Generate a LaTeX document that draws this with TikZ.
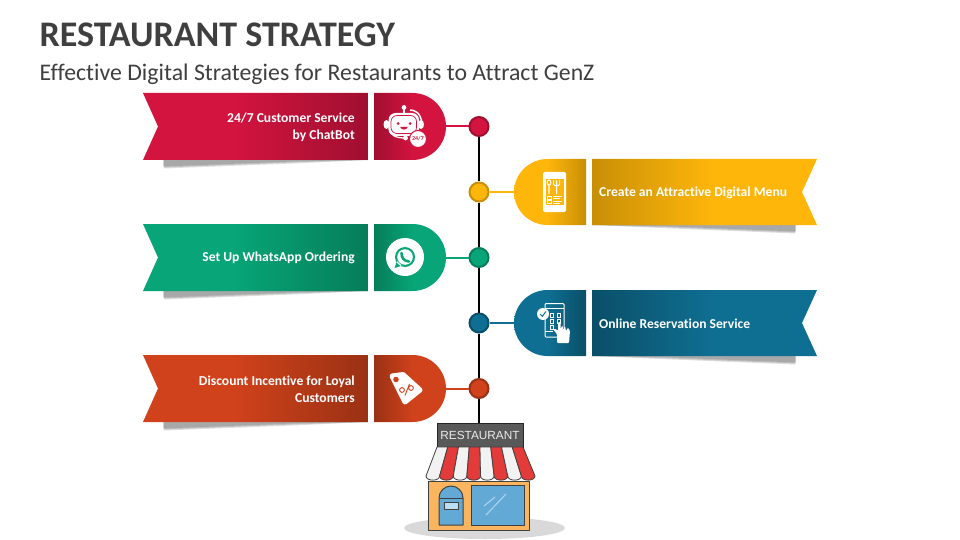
\documentclass[tikz,border=0pt]{standalone}
\usepackage{fontspec}
\setmainfont[Ligatures=NoCommon]{Carlito}
\newfontfamily\signfont{Liberation Sans}
\usetikzlibrary{calc}
\definecolor{redA}{HTML}{D3143F}\definecolor{redB}{HTML}{A00F30}
\definecolor{yelA}{HTML}{FFB60B}\definecolor{yelB}{HTML}{C88F05}
\definecolor{grnA}{HTML}{07A577}\definecolor{grnB}{HTML}{067D5A}
\definecolor{teaA}{HTML}{0F6F92}\definecolor{teaB}{HTML}{0A4F68}
\definecolor{ornA}{HTML}{D0421B}\definecolor{ornB}{HTML}{9A3114}
\definecolor{ink}{HTML}{3F3F3F}
\definecolor{shopline}{HTML}{404040}
\definecolor{awnRed}{HTML}{E23B39}
\definecolor{awnWhite}{HTML}{F2F2F2}
\definecolor{wallCol}{HTML}{FBB55F}
\definecolor{glassCol}{HTML}{62A9D6}
\definecolor{paleCol}{HTML}{BBDDF2}
\definecolor{glintCol}{HTML}{A9D0EA}
\newcommand{\mkshades}[3]{%
 \pgfdeclarehorizontalshading{#1BL}{100bp}{color(0bp)=(#2);color(45bp)=(#2);color(75bp)=(#3);color(100bp)=(#3)}%
 \pgfdeclarehorizontalshading{#1HL}{100bp}{color(0bp)=(#3);color(25bp)=(#3);color(52bp)=(#2);color(100bp)=(#2)}%
 \pgfdeclarehorizontalshading{#1HR}{100bp}{color(0bp)=(#2);color(48bp)=(#2);color(75bp)=(#3);color(100bp)=(#3)}%
 \pgfdeclarehorizontalshading{#1BR}{100bp}{color(0bp)=(#3);color(25bp)=(#3);color(52bp)=(#2);color(100bp)=(#2)}%
}
\mkshades{red}{redA}{redB}\mkshades{yel}{yelA}{yelB}\mkshades{grn}{grnA}{grnB}\mkshades{tea}{teaA}{teaB}\mkshades{orn}{ornA}{ornB}
\tikzset{
 dot/.style={circle,inner sep=0pt,minimum size=19pt,line width=2pt},
 rowlabel/.style={text=white,font=\bfseries\fontsize{13.6}{17}\selectfont,inner sep=0pt},
 stem/.style={line width=2pt},
 shop/.style={draw=shopline,line width=1pt,line join=round},
 softshadow/.style={fill=black,opacity=0.13,draw=none},
 awn0/.style={shop,line width=0.8pt,fill=awnWhite},
 awn1/.style={shop,line width=0.8pt,fill=awnRed},
}
\newcommand{\leftrow}[6]{%
 \pgfmathsetmacro{\rowmid}{(#5+#6)/2}%
 \foreach \d in {0,1,2}{\fill[softshadow] ({164-\d*0.5},#6) -- ({164-\d*0.5},{#6+8.5-\d}) -- (300,{#6+3.2-\d}) -- (368,#6) -- cycle;}
 \shade[shading=#2BL] (143,#5) -- (368,#5) -- (368,#6) -- (143,#6) -- (158,\rowmid) -- cycle;
 \shade[shading=#2HL] (374,#5) -- (412.5,#5) .. controls (431,#5) and (446,{#5+15}) .. (446,\rowmid) .. controls (446,{#6-15}) and (431,#6) .. (412.5,#6) -- (374,#6) -- cycle;
 \coordinate (h#1) at (446,\rowmid);
 \node[dot,fill=#3,draw=#4] (c#1) at (479,\rowmid) {};
 \draw[line width=2pt,#3] (h#1) -- (c#1);
}
\newcommand{\rightrow}[6]{%
 \pgfmathsetmacro{\rowmid}{(#5+#6)/2}%
 \foreach \d in {0,1,2}{\fill[softshadow] ({795+\d*0.5},#6) -- ({795+\d*0.5},{#6+8.5-\d}) -- (665,{#6+3.2-\d}) -- (592,#6) -- cycle;}
 \shade[shading=#2BR] (592,#5) -- (817,#5) -- (802,\rowmid) -- (817,#6) -- (592,#6) -- cycle;
 \shade[shading=#2HR] (586,#5) -- (547.5,#5) .. controls (529,#5) and (514,{#5+15}) .. (514,\rowmid) .. controls (514,{#6-15}) and (529,#6) .. (547.5,#6) -- (586,#6) -- cycle;
 \coordinate (h#1) at (514,\rowmid);
 \node[dot,fill=#3,draw=#4] (c#1) at (479,\rowmid) {};
 \draw[line width=2pt,#3] (h#1) -- (c#1);
}
\begin{document}
\begin{tikzpicture}[x=1pt,y=-1pt]
\useasboundingbox (0,0) rectangle (960,540);
\fill[white] (0,0) rectangle (960,540);
\node[anchor=base west,inner sep=0pt,text=ink,font=\bfseries\fontsize{36}{40}\selectfont] (title) at (39.5,46.3) {RESTAURANT STRATEGY};
\node[anchor=base west,inner sep=0pt,text=ink,font=\fontsize{23.8}{26}\selectfont] (subtitle) at (39.5,80.5) {Effective Digital Strategies for Restaurants to Attract GenZ};
% rows
\leftrow{1}{red}{redA}{redB}{93}{160}
\rightrow{2}{yel}{yelA}{yelB}{159}{225}
\leftrow{3}{grn}{grnA}{grnB}{224}{291}
\rightrow{4}{tea}{teaA}{teaB}{290}{356}
\leftrow{5}{orn}{ornA}{ornB}{355}{422}
% labels
\node[rowlabel,anchor=east,align=right] (t1) at (355,127.2) {24/7 Customer Service\\by ChatBot};
\node[rowlabel,anchor=west] (t2) at (599,192.7) {Create an Attractive Digital Menu};
\node[rowlabel,anchor=east] (t3) at (355,258.2) {Set Up WhatsApp Ordering};
\node[rowlabel,anchor=west] (t4) at (599,323.5) {Online Reservation Service};
\node[rowlabel,anchor=east,align=right] (t5) at (355,389) {Discount Incentive for Loyal\\Customers};
% shop
\fill[black!15] (484.5,528) ellipse (80.5 and 11);
\node[draw=black!85,line width=1pt,fill=black!65,text=black!8,font=\signfont\fontsize{11.8}{14}\selectfont,minimum width=86pt,minimum height=24pt,inner sep=0pt] (sign) at (480,435) {RESTAURANT};
\draw[stem] (c1) -- (c2); \draw[stem] (c2) -- (c3); \draw[stem] (c3) -- (c4); \draw[stem] (c4) -- (c5); \draw[stem] (c5) -- (c5 |- sign.north);
\draw[shop,fill=wallCol] (428,481) rectangle (529,530);
\foreach \i [evaluate=\i as \ptA using 437+86*\i/8, evaluate=\i as \ptB using 437+86*(\i+1)/8, evaluate=\i as \ptC using 426+109*\i/8, evaluate=\i as \ptD using 426+109*(\i+1)/8, evaluate=\i as \kind using {int(mod(\i,2))}] in {0,...,7}{
 \draw[awn\kind] (\ptA,447) -- (\ptB,447) -- (\ptD,476) .. controls (\ptD,481.5) and (\ptC,481.5) .. (\ptC,476) -- cycle;
}
\draw[shop,fill=glassCol] (439,525) -- (439,498) .. controls (439,491.4) and (444.4,486) .. (451,486) .. controls (457.6,486) and (463,491.4) .. (463,498) -- (463,525) -- cycle;
\draw[shop,line width=0.8pt] (439,498) -- (463,498);
\draw[shop,fill=paleCol] (444.5,502) rectangle (458,509);
\draw[shop,fill=glassCol] (471,485) rectangle (524,525);
\draw[line width=1.2pt,glintCol] (484,506) -- (495,497) (486,515) -- (506,494);
% robot icon
\fill[white] (404,107.5) circle (2.4);
\draw[white,line width=1.3pt] (404,108) -- (404,114);
\draw[white,line width=1.5pt] (422,124) .. controls (421,112) and (414,110) .. (410,110);
\draw[white,line width=1.3pt] (389,128) .. controls (390,136) and (397,138) .. (405,138);
\fill[white] (405.5,138) circle (2.4);
\fill[white,rounded corners=7pt] (388.5,113) rectangle (419,136);
\draw[redA,line width=0.7pt,rounded corners=6pt] (391,115.5) rectangle (416.5,133.5);
\fill[white] (386.5,124.5) ellipse (3 and 4.5);
\fill[white] (421,124.5) ellipse (3 and 4.5);
\fill[redA] (398,123.5) circle (1.5) (410,123.5) circle (1.5);
\fill[redA] (400,126.8) .. controls (401.5,130.5) and (406.5,130.5) .. (408,126.8) -- cycle;
\draw[redA,line width=1pt,fill=white] (418,139) circle (8.5);
\node[inner sep=0pt,text=redA,font=\bfseries\fontsize{6}{6}\selectfont] (badge) at (418,139) {24/7};
% phone icon
\fill[white,rounded corners=2pt] (543,172) rectangle (566,212);
\fill[yelA] (546,179) rectangle (564,205);
\draw[white,line width=1.1pt] (549,182.5) ellipse (1.8 and 2.6) (549,185) -- (549,194);
\draw[white,line width=1pt] (553.5,180.5) -- (553.5,184) .. controls (553.5,186.5) and (559.5,186.5) .. (559.5,184) -- (559.5,180.5) (556.5,180.5) -- (556.5,194);
\draw[white,line width=0.8pt] (547.5,196) rectangle (551.5,199) (547.5,200.5) rectangle (551.5,203.5);
\draw[white,line width=0.9pt] (553,196) -- (562,196) (553,198.5) -- (560,198.5) (553,201) -- (562,201) (553,203.3) -- (560,203.3);
% whatsapp icon
\fill[white] (405,257) circle (19);
\fill[grnA] (405,257) circle (10) (397,261) -- (394.5,268) -- (402,265.5) -- cycle;
\fill[white] (405,257) circle (7.8);
\draw[grnA,line width=2.6pt,line cap=round] (401.5,253) .. controls (401.5,258) and (404,261) .. (409,261.5);
% reservation icon
\draw[white,line width=1pt,rounded corners=1pt] (545,303.5) rectangle (564,337);
\draw[white,line width=0.8pt] (545,308) -- (564,308) (545,331) -- (553,331);
\draw[white,line width=0.8pt] (550,313) rectangle (553.5,317) (557,313) rectangle (560.5,317) (550,319) rectangle (553.5,323) (557,319) rectangle (560.5,323) (550,325) rectangle (553.5,329);
\fill[white] (543,314) circle (6);
\draw[teaA,line width=1pt] (540,314) -- (542.3,316.3) -- (546,311.5);
\fill[white,rounded corners=1pt] (557,343) -- (557,334) -- (553.5,330) -- (555,328.5) -- (558,331) -- (558,322) -- (560.5,322) -- (560.5,329) -- (562.5,325) -- (563,330) -- (565,326) -- (566,331) -- (568,327.5) -- (570,331) -- (569,343) -- cycle;
% tag icon
\fill[white,draw=white,line width=5pt,line join=round] (392,376) -- (403,374.5) -- (420,390) -- (405,402) -- cycle;
\fill[ornA] (396,379.5) circle (2.8);
\draw[ornA,line width=0.9pt] (402,390) circle (2.4) (411,388) circle (2.4) (409.5,384) -- (405,395.5);
\end{tikzpicture}
\end{document}
